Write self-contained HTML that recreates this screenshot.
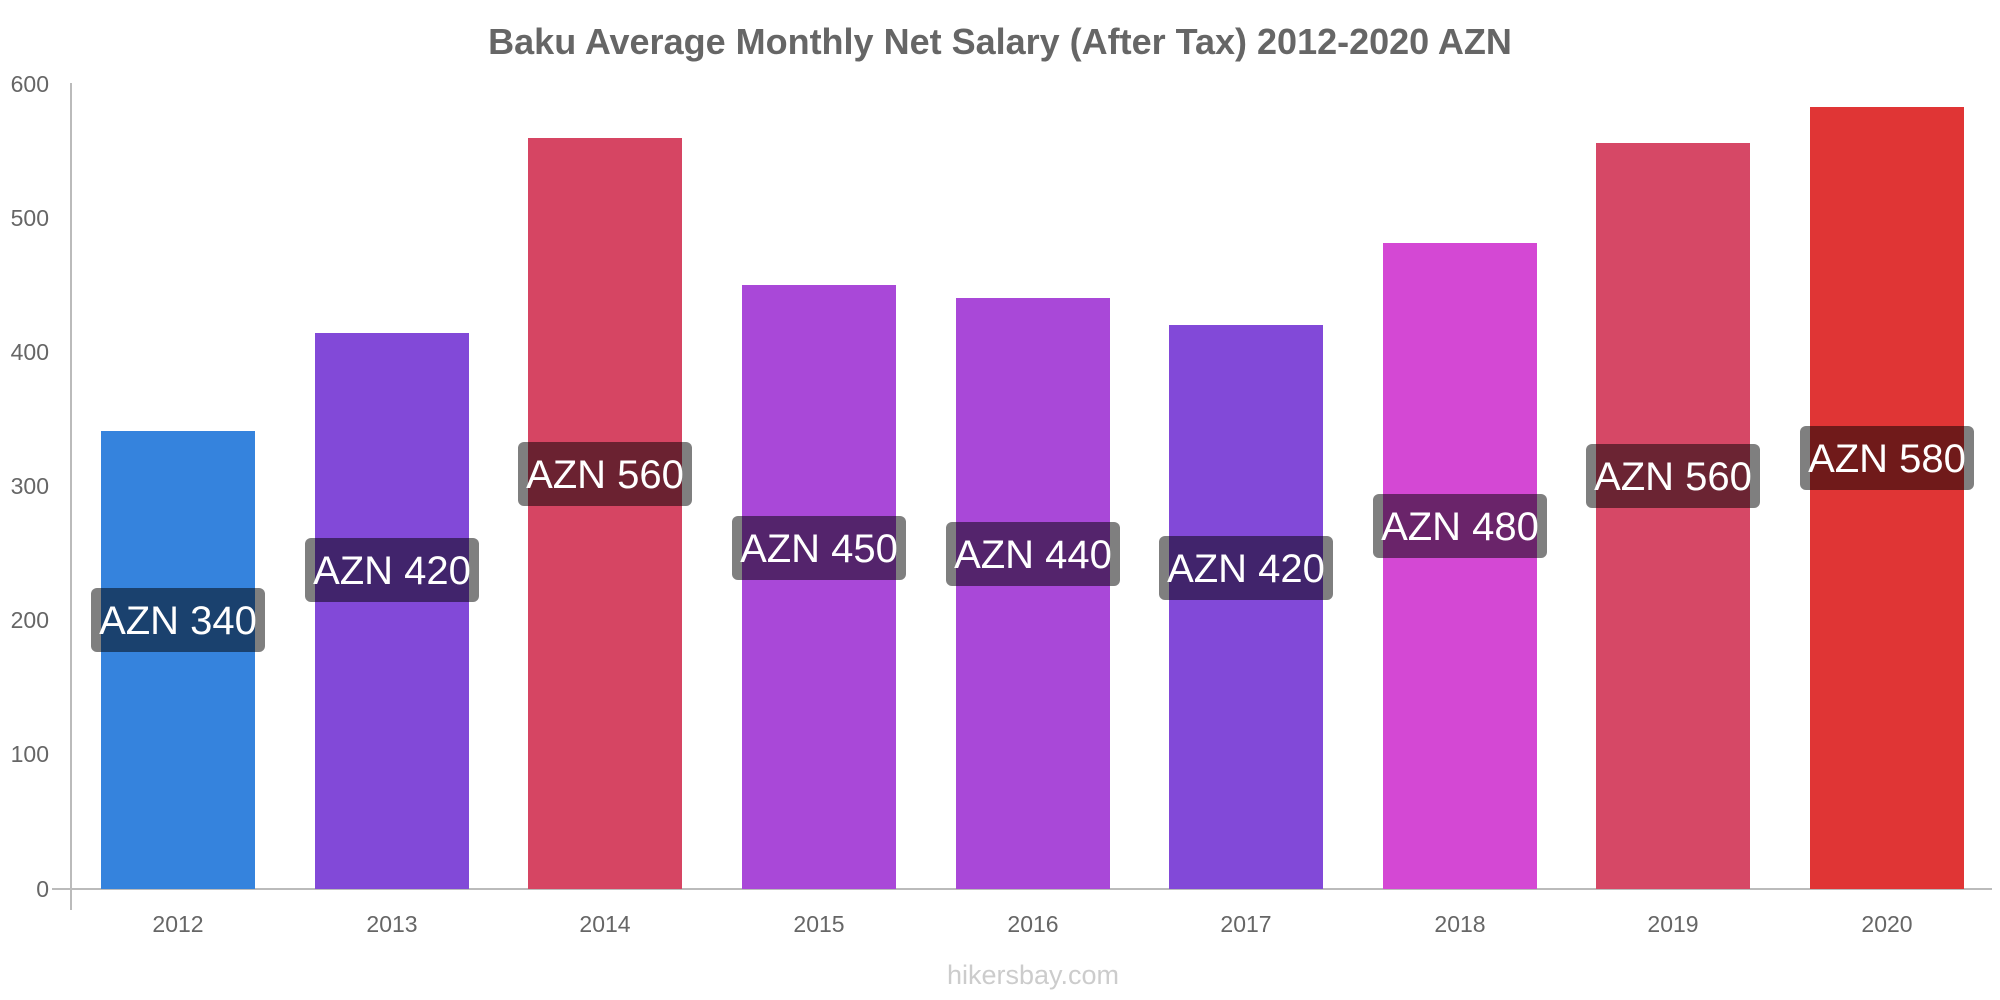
<!DOCTYPE html>
<html><head><meta charset="utf-8"><style>html,body{margin:0;padding:0;background:#fff}svg{display:block}</style></head>
<body>
<svg width="2000" height="1000" xmlns="http://www.w3.org/2000/svg" font-family="Liberation Sans, sans-serif">
<text x="1000" y="54" text-anchor="middle" font-size="36" font-weight="bold" fill="#666">Baku Average Monthly Net Salary (After Tax) 2012-2020 AZN</text>
<g font-size="23" fill="#666" text-anchor="end">
<text x="49" y="92">600</text>
<text x="49" y="226">500</text>
<text x="49" y="360">400</text>
<text x="49" y="494">300</text>
<text x="49" y="628">200</text>
<text x="49" y="762">100</text>
<text x="49" y="897">0</text>
</g>
<line x1="71" y1="83" x2="71" y2="910" stroke="#bbb" stroke-width="2"/>
<line x1="52" y1="889" x2="1992" y2="889" stroke="#bbb" stroke-width="2"/>
<g>
<rect x="101" y="431" width="154" height="458" fill="#3583dd"/>
<rect x="315" y="333" width="154" height="556" fill="#8249d8"/>
<rect x="528" y="138" width="154" height="751" fill="#d64563"/>
<rect x="742" y="285" width="154" height="604" fill="#a948d8"/>
<rect x="956" y="298" width="154" height="591" fill="#a948d8"/>
<rect x="1169" y="325" width="154" height="564" fill="#8249d8"/>
<rect x="1383" y="243" width="154" height="646" fill="#d448d4"/>
<rect x="1596" y="143" width="154" height="746" fill="#d64866"/>
<rect x="1810" y="107" width="154" height="782" fill="#e03535"/>
</g>
<g fill="rgba(0,0,0,0.5)">
<rect x="91" y="588" width="174" height="64" rx="6"/>
<rect x="305" y="538" width="174" height="64" rx="6"/>
<rect x="518" y="442" width="174" height="64" rx="6"/>
<rect x="732" y="516" width="174" height="64" rx="6"/>
<rect x="946" y="522" width="174" height="64" rx="6"/>
<rect x="1159" y="536" width="174" height="64" rx="6"/>
<rect x="1373" y="494" width="174" height="64" rx="6"/>
<rect x="1586" y="444" width="174" height="64" rx="6"/>
<rect x="1800" y="426" width="174" height="64" rx="6"/>
</g>
<g font-size="40" fill="#fff" text-anchor="middle">
<text x="178" y="634">AZN 340</text>
<text x="392" y="584">AZN 420</text>
<text x="605" y="488">AZN 560</text>
<text x="819" y="562">AZN 450</text>
<text x="1033" y="568">AZN 440</text>
<text x="1246" y="582">AZN 420</text>
<text x="1460" y="540">AZN 480</text>
<text x="1673" y="490">AZN 560</text>
<text x="1887" y="472">AZN 580</text>
</g>
<g font-size="23" fill="#666" text-anchor="middle">
<text x="178" y="932">2012</text>
<text x="392" y="932">2013</text>
<text x="605" y="932">2014</text>
<text x="819" y="932">2015</text>
<text x="1033" y="932">2016</text>
<text x="1246" y="932">2017</text>
<text x="1460" y="932">2018</text>
<text x="1673" y="932">2019</text>
<text x="1887" y="932">2020</text>
</g>
<text x="1033" y="984" text-anchor="middle" font-size="27" fill="#ccc">hikersbay.com</text>
</svg>
</body></html>
